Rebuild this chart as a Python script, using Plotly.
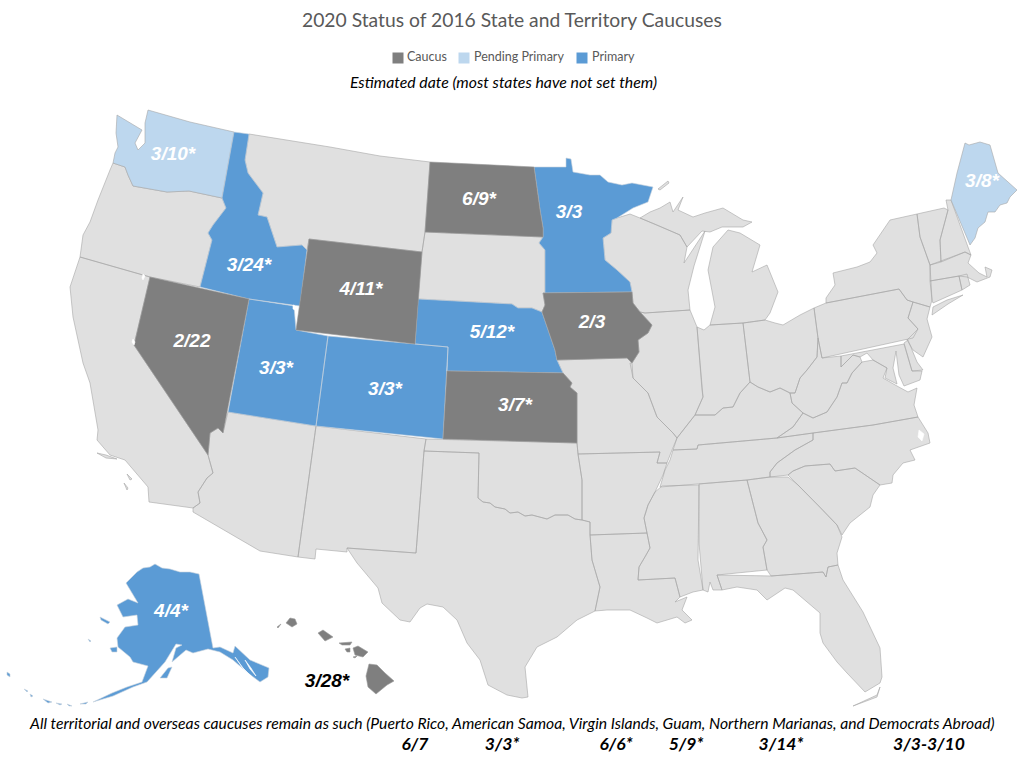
import plotly.graph_objects as go

# outlines, in picture units (x right, y down)
WA = [(117,115),(130,123),(142,130),(135,143),(138,150),(145,143),(145,123),(148,110),(190,122),(234,132),(222,198),(189,191),(167,192),(150,189),(133,186),(128,175),(125,167),(113,163),(115,153),(118,147),(116,133)]
OR = [(113,163),(125,167),(128,175),(133,186),(150,189),(167,192),(189,191),(222,198),(226,208),(213,225),(208,233),(212,240),(200,287),(150,277),(80,257),(83,235),(90,222),(98,200),(110,170)]
CA = [(80,257),(150,277),(134,345),(208,455),(213,473),(207,478),(198,492),(200,503),(193,508),(149,502),(148,487),(133,470),(125,460),(110,455),(97,440),(98,430),(90,383),(83,363),(80,350),(73,317),(70,287)]
CA_ISLANDS = [[(97,453),(106,455),(117,459),(106,458)],[(127,474),(132,479),(130,480)],[(124,483),(128,488),(127,490)]]
NV = [(150,277),(249,299),(223,433),(218,428),(210,433),(208,455),(134,345)]
ID = [(234,132),(249,134),(245,160),(248,173),(263,193),(258,215),(267,217),(277,247),(302,245),(307,250),(300,306),(249,299),(200,287),(212,240),(208,233),(213,225),(226,208),(222,198)]
UT = [(249,299),(294,306),(296,330),(328,336),(316,426),(228,412)]
WY = [(309,239),(422,252),(415,344),(296,330)]
CO = [(328,336),(415,344),(448,347),(443,439),(316,426)]
MT = [(249,134),(330,147),(380,156),(430,162),(425,232),(422,252),(309,239),(307,250),(302,245),(277,247),(267,217),(258,215),(263,193),(248,173),(245,160)]
ND = [(430,162),(534,167),(540,210),(543,228),(543,237),(425,232)]
SD = [(425,232),(543,237),(539,243),(545,250),(545,293),(543,293),(545,305),(542,312),(532,308),(518,308),(512,304),(418,299),(422,252)]
NE = [(418,299),(512,304),(518,308),(532,308),(542,312),(555,350),(557,360),(563,373),(447,371),(448,347),(415,344)]
KS = [(447,371),(563,373),(572,383),(570,387),(577,393),(577,443),(443,439)]
MN = [(534,167),(566,167),(566,158),(571,159),(573,172),(590,175),(600,175),(608,182),(622,185),(632,183),(653,187),(648,202),(633,208),(617,218),(612,220),(611,233),(603,238),(605,260),(617,270),(630,282),(632,292),(543,293),(545,293),(545,250),(539,243),(543,237),(543,228),(540,210)]
IA = [(543,293),(632,292),(633,303),(640,312),(652,325),(648,333),(638,340),(639,352),(632,363),(627,358),(557,360),(555,350),(542,312),(545,305)]
WI = [(617,218),(630,214),(640,218),(657,225),(680,235),(687,247),(684,263),(705,231),(694,266),(688,290),(690,310),(645,313),(640,312),(633,303),(632,292),(630,282),(617,270),(605,260),(603,238),(611,233),(612,220)]
IL = [(645,313),(690,310),(697,327),(702,390),(703,397),(695,415),(677,438),(673,433),(657,417),(648,393),(633,378),(630,363),(632,363),(639,352),(638,340),(648,333),(652,325),(640,312)]
IN = [(697,327),(704,330),(710,325),(743,323),(750,382),(740,393),(733,407),(723,408),(715,415),(700,415),(695,415),(703,397),(702,390)]
OH = [(743,323),(765,320),(775,323),(783,325),(800,315),(814,308),(818,338),(817,357),(807,370),(800,378),(795,393),(790,393),(780,388),(770,392),(758,387),(750,382)]
MI = [(710,325),(715,307),(708,270),(713,247),(728,230),(740,233),(760,245),(752,272),(767,265),(778,292),(770,313),(765,320),(743,323)]
MI_UP = [(640,218),(650,212),(660,208),(670,202),(673,212),(683,197),(678,210),(693,217),(705,213),(723,208),(743,220),(752,222),(743,227),(722,227),(710,232),(702,231),(687,247),(680,235),(657,225)]
ISLE_ROYALE = [(658,189),(668,181),(669,183),(660,190)]
PA = [(814,308),(826,303),(899,289),(907,300),(913,302),(908,318),(918,329),(913,338),(822,358),(818,338)]
NY = [(826,303),(826,298),(835,285),(833,273),(857,267),(870,262),(877,253),(873,245),(890,220),(917,214),(920,237),(930,265),(932,300),(930,307),(913,302),(907,300),(899,289)]
LONG_ISLAND = [(932,315),(948,304),(963,295),(947,300),(933,307)]
NJ = [(913,302),(930,307),(927,319),(932,337),(923,357),(913,350),(907,340),(918,329),(908,318)]
DE = [(904,343),(908,340),(917,362),(923,370),(912,371)]
MD = [(841,356),(904,344),(912,371),(922,371),(920,380),(904,386),(899,375),(896,351),(893,368),(897,384),(885,378),(887,368),(873,360),(867,353),(860,357),(853,355),(841,367)]
WV = [(818,338),(822,358),(841,356),(841,367),(853,355),(860,357),(862,362),(852,373),(847,383),(842,383),(837,397),(827,412),(813,418),(803,413),(792,403),(790,393),(795,393),(800,378),(807,370),(817,357)]
VA = [(862,362),(873,360),(887,368),(883,378),(897,386),(908,392),(917,388),(914,405),(918,417),(873,425),(813,433),(777,438),(793,427),(803,413),(813,418),(827,412),(837,397),(842,383),(847,383),(852,373)]
KY = [(750,382),(758,387),(770,392),(780,388),(790,393),(792,403),(803,413),(793,427),(777,438),(723,443),(698,445),(697,449),(673,450),(677,438),(695,415),(715,415),(723,408),(733,407),(740,393)]
TN = [(813,433),(813,440),(795,450),(777,463),(770,472),(770,477),(747,480),(700,484),(660,487),(665,470),(670,460),(673,450),(697,449),(698,445),(723,443),(777,438)]
NC = [(918,417),(873,425),(813,433),(813,440),(795,450),(777,463),(770,472),(770,477),(788,475),(793,471),(805,466),(830,464),(835,471),(855,468),(880,485),(892,483),(893,475),(903,463),(915,460),(910,450),(930,443),(928,433)]
SC = [(788,475),(793,471),(805,466),(830,464),(835,471),(855,468),(880,485),(873,495),(870,507),(860,515),(850,523),(842,535),(837,525),(820,507),(798,485)]
GA = [(770,477),(788,477),(798,485),(820,507),(837,525),(842,537),(837,553),(838,565),(828,567),(826,577),(823,572),(771,576),(767,570),(763,547),(767,540),(758,523),(747,480)]
AL = [(699,484),(747,480),(758,523),(767,540),(763,547),(767,570),(717,575),(722,590),(713,590),(710,582),(708,592),(703,590),(699,543)]
MS = [(699,485),(662,486),(655,492),(648,505),(644,518),(647,533),(650,548),(645,557),(639,567),(638,580),(675,578),(680,597),(693,592),(703,590),(698,560)]
LA = [(638,580),(675,578),(680,597),(675,602),(687,597),(682,610),(692,620),(685,623),(677,617),(657,623),(647,618),(630,610),(607,610),(595,611),(600,587),(592,560),(590,535),(647,533),(650,548),(645,557),(639,567)]
AR = [(578,454),(660,452),(657,463),(667,463),(663,475),(655,492),(648,505),(644,518),(647,533),(590,535),(590,522),(582,520),(582,480)]
MO = [(557,360),(627,358),(632,363),(633,378),(648,393),(657,417),(673,433),(677,438),(672,450),(667,463),(657,463),(660,452),(578,454),(577,443),(577,393),(570,387),(572,383),(563,373)]
OK = [(426,439),(577,443),(578,454),(582,480),(582,520),(575,519),(568,515),(555,515),(547,519),(540,517),(532,515),(525,516),(518,512),(510,513),(505,509),(495,507),(490,503),(483,502),(478,498),(479,453),(424,451)]
TX = [(424,451),(479,453),(478,498),(483,502),(490,503),(495,507),(505,509),(510,513),(518,512),(525,516),(532,515),(540,517),(547,519),(555,515),(568,515),(575,519),(582,520),(590,522),(590,535),(592,560),(600,587),(595,611),(577,620),(557,637),(537,647),(525,667),(528,697),(522,698),(507,695),(488,685),(480,660),(467,643),(457,620),(443,607),(427,604),(420,608),(410,622),(400,620),(382,603),(378,588),(357,563),(347,548),(416,553)]
NM = [(316,426),(426,439),(424,451),(416,553),(347,548),(347,552),(316,549),(315,559),(298,557)]
AZ = [(316,426),(298,557),(260,551),(193,512),(193,508),(200,503),(198,492),(207,478),(213,473),(208,455),(210,433),(218,428),(223,433),(228,412)]
VT = [(917,214),(944,208),(948,210),(940,240),(941,262),(930,265),(920,237)]
NH = [(946,200),(951,200),(968,247),(971,255),(965,252),(941,262),(940,240),(948,210)]
ME = [(951,200),(957,173),(965,143),(969,145),(980,142),(990,145),(998,173),(1017,190),(1010,197),(1007,203),(1000,205),(995,212),(988,212),(985,222),(978,228),(975,238),(970,245)]
MA = [(930,265),(965,252),(971,255),(968,263),(979,273),(987,277),(985,267),(992,270),(990,277),(977,282),(967,277),(959,276),(930,281)]
CT = [(930,281),(959,276),(962,290),(933,303),(932,300)]
RI = [(959,276),(967,274),(970,285),(962,290)]
FL = [(717,575),(771,576),(823,572),(826,577),(828,567),(838,565),(843,580),(863,612),(880,648),(882,677),(880,683),(865,692),(847,673),(837,662),(823,643),(820,633),(820,613),(813,607),(793,590),(785,588),(767,600),(757,590),(737,587),(722,590)]
FL_KEYS = [(880,687),(877,697),(853,706),(877,695)]
AK = [(137,572),(143,568),(150,567),(155,564),(162,568),(170,569),(180,572),(190,572),(199,574),(213,648),(220,647),(233,653),(235,646),(250,660),(269,668),(268,677),(260,682),(248,673),(233,660),(220,652),(208,649),(193,653),(186,650),(172,662),(176,648),(182,645),(176,644),(165,662),(147,682),(133,687),(113,696),(93,702),(112,693),(127,687),(142,682),(148,666),(133,662),(130,657),(118,647),(117,638),(125,627),(138,625),(137,615),(123,617),(117,605),(128,599),(138,603),(126,583)]
AK_ISLANDS = [[(160,678),(168,668),(172,667),(167,678)],[(100,617),(110,622),(108,624),(101,620)],[(110,648),(117,647),(117,652),(112,652)],[(7,672),(10,674),(10,677),(7,675)],[(88,639),(91,641),(90,642)],[(24,689),(28,691),(27,692)],[(30,694),(33,696),(31,697)],[(43,699),(52,702),(48,703)],[(56,703),(62,704),(60,705)],[(67,704),(72,706),(69,706)],[(80,704),(88,702),(86,704)]]
HI = [[(286,623),(290,618),(295,619),(297,624),(292,627)],[(277,627),(281,624),(278,628)],[(318,633),(323,630),(333,637),(325,641)],[(339,643),(352,642),(350,645),(342,645)],[(345,649),(350,648),(350,652),(347,652)],[(353,648),(358,646),(368,652),(363,657),(355,655)],[(353,657),(357,656),(355,658)],[(369,664),(377,665),(385,673),(394,681),(387,685),(376,694),(368,687),(366,676)]]
WATER = [[(143,274),(145,276),(143,280),(142,278)],[(133,339),(135,342),(134,345),(132,342)],[(293,305),(295,306),(295,310),(293,309)],[(919,430),(924,434),(922,441),(918,437)],[(235,657),(243,668),(252,677),(244,670)],[(245,660),(251,668),(256,676),(250,669)]]

OTHER_STATES = [OR, CA, *CA_ISLANDS, MT, SD, WI, IL, IN, OH, MI, MI_UP, ISLE_ROYALE, PA, NY, LONG_ISLAND, NJ, DE, MD, WV, VA, KY, TN, NC, SC, GA, AL, MS, LA, AR, MO, OK, TX, NM, AZ, VT, NH, MA, CT, RI, FL, FL_KEYS]
CAUCUS_STATES = [NV, WY, ND, IA, KS, *HI]
PENDING_STATES = [WA, ME]
PRIMARY_STATES = [ID, UT, CO, NE, MN, AK, *AK_ISLANDS]

LEGEND_NAMES = ["Caucus", "Pending Primary", "Primary"]
LEGEND_COLORS = ["#7F7F7F", "#BDD7EE", "#5B9BD5"]
LEGEND_MARK_X = [398, 464, 582]
LEGEND_TEXT_X = [407, 474, 592]
LEGEND_Y = [58, 58, 58]

DATES = ["3/10*", "3/8*", "2/22", "3/3*", "3/3*", "3/24*", "4/11*", "5/12*", "3/7*", "6/9*", "3/3", "2/3", "4/4*"]
DATE_X = [173, 982, 192, 276, 385, 249, 361, 492, 515, 479, 569, 592, 171]
DATE_Y = [155, 182, 342, 369, 390, 266, 290, 333, 406, 200, 213, 323, 612]

TERRITORY_DATES = ["3/28*", "6/7", "3/3*", "6/6*", "5/9*", "3/14*", "3/3-3/10"]
TERRITORY_X = [327, 415, 502, 616, 686, 781, 929]
TERRITORY_Y = [682, 746, 746, 746, 746, 746, 746]


def joined(polygons):
    xs, ys = [], []
    for poly in polygons:
        xs += [p[0] for p in poly] + [poly[0][0], None]
        ys += [p[1] for p in poly] + [poly[0][1], None]
    return xs, ys


def add_group(fig, polygons, fill, line, name):
    xs, ys = joined(polygons)
    fig.add_trace(go.Scatter(x=xs, y=ys, mode="lines", fill="toself", fillcolor=fill,
                             line=dict(color=line, width=0.6), name=name,
                             hoverinfo="name", showlegend=False))


fig = go.Figure()
add_group(fig, OTHER_STATES, "#E0E0E0", "#A6A6A6", "No caucus in 2016")
add_group(fig, PENDING_STATES, LEGEND_COLORS[1], "#A6A6A6", LEGEND_NAMES[1])
add_group(fig, PRIMARY_STATES, LEGEND_COLORS[2], "#C9D3DE", LEGEND_NAMES[2])
add_group(fig, CAUCUS_STATES, LEGEND_COLORS[0], "#9A9A9A", LEGEND_NAMES[0])
add_group(fig, WATER, "#FFFFFF", "#FFFFFF", "Water")

fig.add_trace(go.Scatter(x=DATE_X, y=DATE_Y, mode="text", text=DATES, hoverinfo="skip", showlegend=False,
                         textfont=dict(family="Liberation Sans", size=19, color="white", weight="bold", style="italic")))
fig.add_trace(go.Scatter(x=TERRITORY_X[:1], y=TERRITORY_Y[:1], mode="text", text=TERRITORY_DATES[:1], hoverinfo="skip", showlegend=False,
                         textfont=dict(family="Liberation Sans", size=19, color="black", weight="bold", style="italic")))
fig.add_trace(go.Scatter(x=TERRITORY_X[1:], y=TERRITORY_Y[1:], mode="text", text=TERRITORY_DATES[1:], hoverinfo="skip", showlegend=False,
                         textfont=dict(family="Lato", size=17.5, color="black", weight="bold", style="italic")))
fig.add_trace(go.Scatter(x=LEGEND_MARK_X, y=LEGEND_Y, mode="markers", hoverinfo="skip", showlegend=False,
                         marker=dict(symbol="square", size=11, color=LEGEND_COLORS)))
fig.add_trace(go.Scatter(x=LEGEND_TEXT_X, y=LEGEND_Y, mode="text", text=LEGEND_NAMES, textposition="middle right",
                         hoverinfo="skip", showlegend=False,
                         textfont=dict(family="Lato", size=12.5, color="#595959")))

fig.add_annotation(x=512, y=19, text="2020 Status of 2016 State and Territory Caucuses", showarrow=False,
                   font=dict(family="Lato", size=19.3, color="#595959"))
fig.add_annotation(x=503, y=81, text="<i>Estimated date (most states have not set them)</i>", showarrow=False,
                   font=dict(family="Lato", size=15.8, color="black"))
fig.add_annotation(x=512, y=723, text="<i>All territorial and overseas caucuses remain as such (Puerto Rico, American Samoa, Virgin Islands, Guam, Northern Marianas, and Democrats Abroad)</i>", showarrow=False,
                   font=dict(family="Lato", size=15.7, color="black"))

fig.update_xaxes(range=[0, 1023], visible=False)
fig.update_yaxes(range=[768, 0], visible=False)
fig.update_layout(width=1023, height=768, margin=dict(l=0, r=0, t=0, b=0),
                  plot_bgcolor="white", paper_bgcolor="white", showlegend=False)
fig.write_html("out.html", config=dict(displayModeBar=False), post_script="document.body.style.margin='0';")
